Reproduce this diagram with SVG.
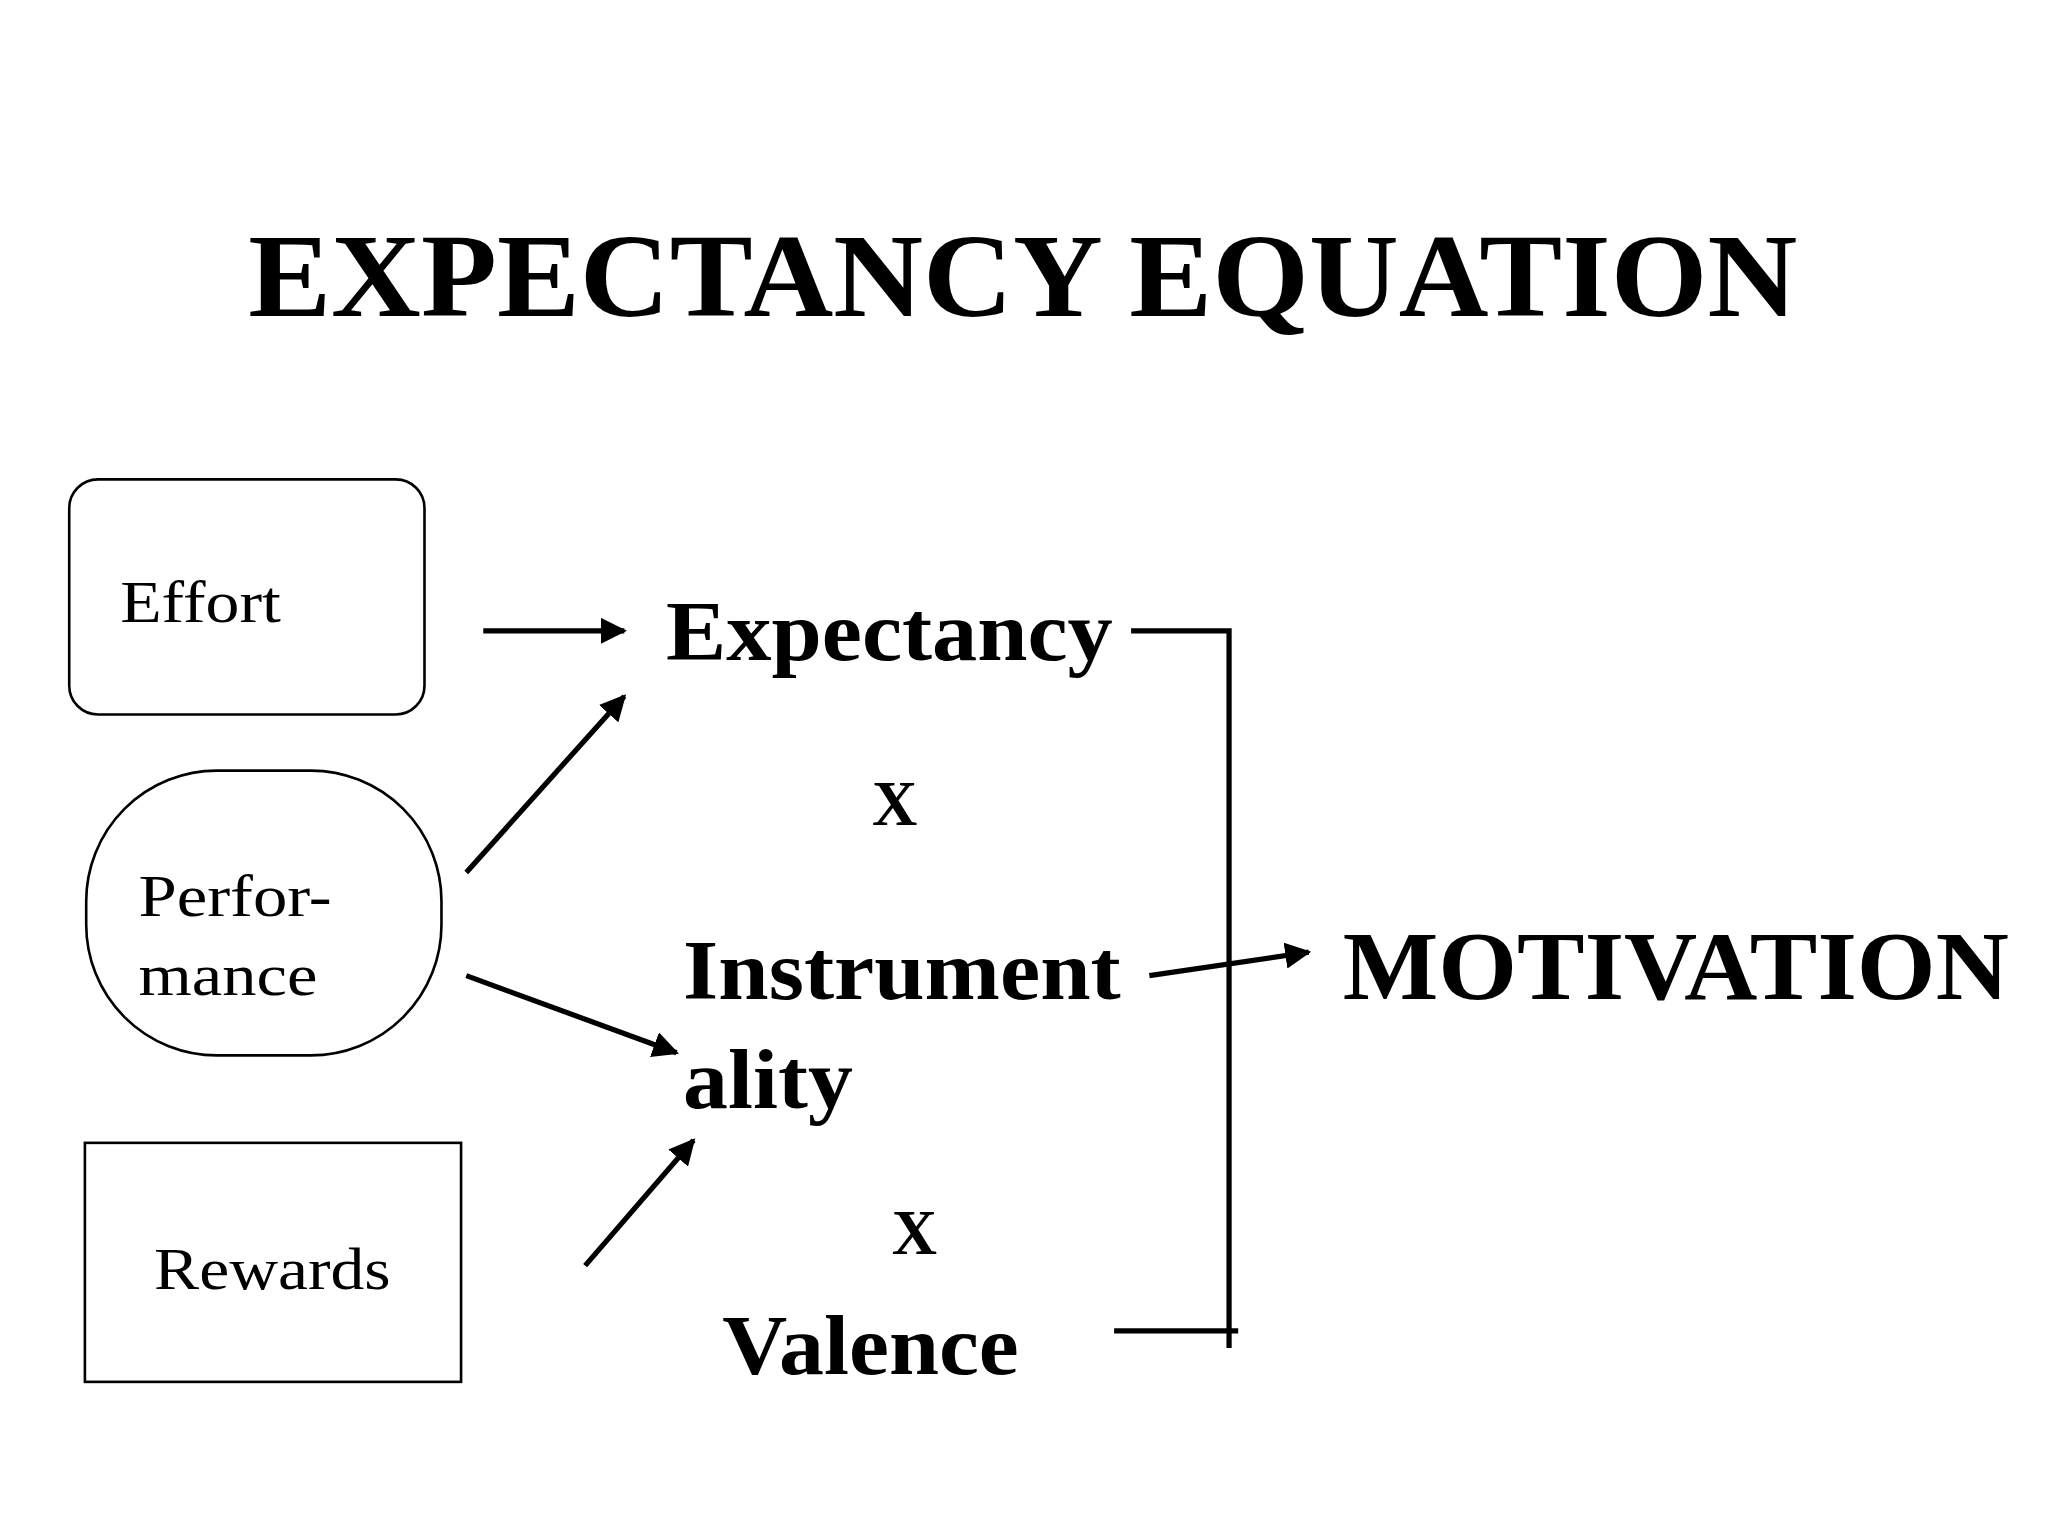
<svg xmlns="http://www.w3.org/2000/svg" width="2048" height="1536" viewBox="0 0 2048 1536">
<style>
text{font-family:"Liberation Serif","Times New Roman",serif;fill:#000}
.b{font-weight:bold}
.n{font-size:46px}
.m{font-size:64px}
.shape{fill:#fff;stroke:#000;stroke-width:2}
.c{stroke:#000;stroke-width:4;fill:none}
</style>
<defs><marker id="ah" viewBox="0 0 10 10" refX="9" refY="5" markerWidth="5" markerHeight="5" orient="auto"><path d="M0,0 L10,5 L0,10 z" fill="#000"/></marker></defs>
<rect width="2048" height="1536" fill="#fff"/>
<g transform="scale(1.30612)">
<text class="b" x="190" y="242" font-size="90" textLength="1186" lengthAdjust="spacingAndGlyphs">EXPECTANCY EQUATION</text>
<g id="effort"><rect class="shape" x="53" y="367" width="272" height="180" rx="22"/><text class="n" x="92" y="476" textLength="123" lengthAdjust="spacingAndGlyphs">Effort</text></g>
<g id="performance"><rect class="shape" x="66" y="590" width="272" height="218" rx="100"/><text class="n" x="106" y="701" textLength="148" lengthAdjust="spacingAndGlyphs">Perfor-</text><text class="n" x="106" y="762" textLength="137" lengthAdjust="spacingAndGlyphs">mance</text></g>
<g id="rewards"><rect class="shape" x="65" y="875" width="288" height="183"/><text class="n" x="118" y="987" textLength="181" lengthAdjust="spacingAndGlyphs">Rewards</text></g>
<g id="expectancy"><text class="b m" x="510" y="505" textLength="342" lengthAdjust="spacingAndGlyphs">Expectancy</text></g>
<g id="x1"><text class="b" x="685" y="632" font-size="48" text-anchor="middle">X</text></g>
<g id="instrumentality"><text class="b m" x="523" y="765" textLength="335" lengthAdjust="spacingAndGlyphs">Instrument</text><text class="b m" x="523" y="848" textLength="130" lengthAdjust="spacingAndGlyphs">ality</text></g>
<g id="x2"><text class="b" x="700" y="960" font-size="48" text-anchor="middle">X</text></g>
<g id="valence"><text class="b m" x="553" y="1052" textLength="227" lengthAdjust="spacingAndGlyphs">Valence</text></g>
<g id="motivation"><text class="b" x="1028" y="765" font-size="74" textLength="510" lengthAdjust="spacingAndGlyphs">MOTIVATION</text></g>
<g id="connectors">
<line class="c" x1="370" y1="483" x2="478" y2="483" marker-end="url(#ah)"/>
<line class="c" x1="357" y1="668" x2="478" y2="533" marker-end="url(#ah)"/>
<line class="c" x1="357" y1="747" x2="518" y2="806" marker-end="url(#ah)"/>
<line class="c" x1="448" y1="969" x2="531" y2="873" marker-end="url(#ah)"/>
<line class="c" x1="880" y1="747" x2="1002" y2="729" marker-end="url(#ah)"/>
<polyline class="c" points="866,483 941,483 941,1032"/>
<line class="c" x1="853" y1="1019" x2="948" y2="1019"/>
</g>
</g>
</svg>
